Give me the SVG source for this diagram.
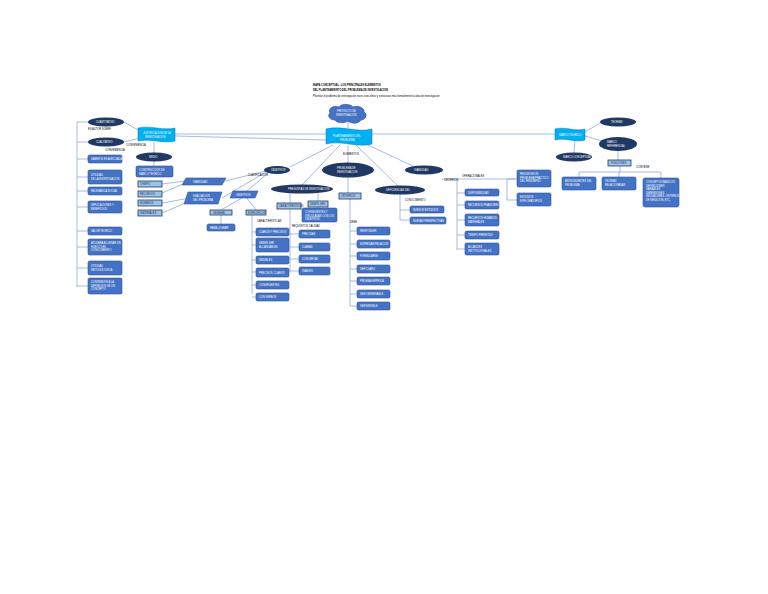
<svg xmlns="http://www.w3.org/2000/svg" width="768" height="594" viewBox="0 0 768 594">
<style>
text{font-family:"Liberation Sans",Arial,sans-serif;font-size:2.6px;fill:#fff}
.t{fill:#000}
.e{fill:#1f3864}
.b{fill:#4472c4;stroke:#2f5597;stroke-width:0.6}
.s{fill:#9dc3e6;stroke:#1f3864;stroke-width:0.8}
.s+text{fill:#1f3864}
.w{fill:#00b0f0;stroke:#0070c0;stroke-width:0.5}
#c path{fill:none;stroke:#8faadc;stroke-width:0.8}
</style>
<rect width="768" height="594" fill="#fff"/>
<g id="title">
<text class="t" x="313" y="86" font-size="3.4" font-weight="bold">MAPA CONCEPTUAL: LOS PRINCIPALES ELEMENTOS</text>
<text class="t" x="313" y="91" font-size="3.4" font-weight="bold">DEL PLANTEAMIENTO DEL PROBLEMA DE INVESTIGACION</text>
<text class="t" x="313" y="97" font-size="2.4">Plantear el problema de investigación no es sino afinar y estructurar más formalmente la idea de investigación</text>
</g>
<g id="c">
<path d="M175 134H555M77 122V287M77 122H88M77 142H88M77 159H88M77 177H88M77 191H88M77 207H88M77 231H88M77 247H88M77 268H88M77 286H88"/>
<path d="M124 122L140 131M124 142L140 138M154 142V153M154 161V166M326 140L175 136M348 121V128"/>
<path d="M162 184L185 181M162 193L190 181M162 203L190 198M162 213L190 201M225 181L266 171M222 198L266 172M247 191L268 173"/>
<path d="M242 198L221 210M247 198L256 210M221 215V224M252 215V294M252 232H256M252 245H256M252 260H256M252 272H256M252 285H256M252 297H256"/>
<path d="M333 145L290 167M340 145L302 185M348 145V163M356 145L398 186M368 145L415 167"/>
<path d="M290 193V209M290 209V272M290 234H299M290 247H299M290 259H299M290 271H299M318 193V201M318 207V208"/>
<path d="M348 177V193M350 199V306M350 231H357M350 244H357M350 256H357M350 269H357M350 281H357M350 294H357M350 306H357"/>
<path d="M400 194V220M400 210H410M400 220H410M442 179H515M457 179V250M457 193H465M457 205H465M457 220H465M457 235H465M457 249H465M507 179V200M507 179H517M507 200H517"/>
<path d="M585 132L600 123M585 136L602 141M575 140L574 153M618 151V160M620 166V172M579 172H661M579 172V177M619 172V177M661 172V178"/>
</g>
<g id="n-proyecto"><path class="b" d="M330 113c-3-5 5-8 9-6c3-4 12-3 14 0c5-2 12 1 11 5c4 2 2 8-3 8c-2 4-10 4-13 1c-4 3-12 2-13-1c-6 0-8-5-5-7z"/><text x="337" y="112">PROYECTO DE</text><text x="336" y="115.5">INVESTIGACION</text></g>
<g id="n-plant"><path class="w" d="M326 129c15 -4 31 4 46 0v15c-15 4-31-4-46 0z"/><text x="333" y="137">PLANTEAMIENTO DEL</text><text x="340" y="140.5">PROBLEMA</text></g>
<text class="t" x="343" y="155" font-size="2.4">ELEMENTOS</text>
<g id="n-just"><path class="w" d="M138 128c12-3 25 3 37 0v13c-12 3-25-3-37 0z"/><text x="143" y="134">JUSTIFICACION DE LA</text><text x="145" y="137.5">INVESTIGACION</text></g>
<g id="n-cuant"><ellipse class="e" cx="106" cy="122" rx="18" ry="4.5"/><text x="96" y="123">CUANTITATIVO</text></g>
<text class="t" x="88" y="130" font-size="2.2">ES AUTOR SOBRE</text>
<g id="n-cual"><ellipse class="e" cx="106" cy="142" rx="18" ry="4.5"/><text x="96" y="143">CUALITATIVO</text></g>
<text class="t" x="105" y="151" font-size="2.2">CONVENIENCIA</text>
<text class="t" x="126" y="146" font-size="2.2">CONVENIENCIA</text>
<g id="n-l1"><rect class="b" x="88" y="155" width="34" height="8" rx="1.5"/><text x="91" y="160">SABER SI ES ADECUADA</text></g>
<g id="n-l2"><rect class="b" x="88" y="170" width="34" height="14" rx="1.5"/><text x="91" y="176">UTILIDAD</text><text x="91" y="179.5">DE LA INVESTIGACION</text></g>
<g id="n-l3"><rect class="b" x="88" y="187" width="34" height="8" rx="1.5"/><text x="91" y="192">RELEVANCIA SOCIAL</text></g>
<g id="n-l4"><rect class="b" x="88" y="201" width="34" height="12" rx="1.5"/><text x="91" y="206">IMPLICACIONES Y</text><text x="91" y="209.5">BENEFICIOS</text></g>
<g id="n-l5"><rect class="b" x="88" y="227" width="34" height="8" rx="1.5"/><text x="91" y="232">VALOR TEORICO</text></g>
<g id="n-l6"><rect class="b" x="88" y="239" width="34" height="16" rx="1.5"/><text x="91" y="244">AYUDARA A LLENAR UN</text><text x="91" y="247.5">HUECO DEL</text><text x="91" y="251">CONOCIMIENTO</text></g>
<g id="n-l7"><rect class="b" x="88" y="261" width="34" height="14" rx="1.5"/><text x="91" y="267">UTILIDAD</text><text x="91" y="270.5">METODOLOGICA</text></g>
<g id="n-l8"><rect class="b" x="88" y="278" width="34" height="16" rx="1.5"/><text x="91" y="283">CONTRIBUYE A LA</text><text x="91" y="286.5">DEFINICION DE UN</text><text x="91" y="290">CONCEPTO</text></g>
<g id="n-medio"><ellipse class="e" cx="154" cy="157" rx="18" ry="4.5"/><text x="149" y="158">MEDIO</text></g>
<g id="n-cmt"><rect class="b" x="136" y="166" width="37" height="11" rx="1.5"/><text x="139" y="171">CONSTRUCCION DE</text><text x="139" y="174.5">MARCO TEORICO</text></g>
<g id="n-s1"><rect class="s" x="138" y="181" width="24" height="6"/><text x="140" y="185">TIEMPO</text></g>
<g id="n-s2"><rect class="s" x="138" y="191" width="24" height="6"/><text x="140" y="195">RECURSOS</text></g>
<g id="n-s3"><rect class="s" x="138" y="200" width="24" height="6"/><text x="140" y="204">HUMANOS</text></g>
<g id="n-s4"><rect class="s" x="138" y="210" width="24" height="6"/><text x="140" y="214">MATERIALES</text></g>
<g id="n-p1"><path class="b" d="M186 178h40l-4 7h-40z"/><text x="193" y="182.5">VIABILIDAD</text></g>
<g id="n-p2"><path class="b" d="M188 192h34l-4 12h-34z"/><text x="193" y="197">EVALUACION</text><text x="193" y="200.5">DEL PROBLEMA</text></g>
<g id="n-p3"><path class="b" d="M233 191h25l-3 7h-25z"/><text x="236" y="195.5">OBJETIVOS</text></g>
<g id="n-obj"><ellipse class="e" cx="277" cy="170" rx="13" ry="4"/><text x="271" y="171">OBJETIVOS</text></g>
<text class="t" x="248" y="176" font-size="2.2">CLASIFICACION</text>
<g id="n-gen"><rect class="s" x="210" y="210" width="22" height="5"/><text x="213" y="213.5">GENERAL</text></g>
<g id="n-esp"><rect class="s" x="246" y="210" width="20" height="5"/><text x="248" y="213.5">ESPECIFICOS</text></g>
<g id="n-para"><rect class="b" x="207" y="224" width="28" height="7" rx="1.5"/><text x="210" y="228.5">PARA LOGRAR</text></g>
<text class="t" x="257" y="222" font-size="2.2">CARACTERISTICAS</text>
<g id="n-o1"><rect class="b" x="256" y="228" width="33" height="8" rx="1.5"/><text x="259" y="233">CLAROS Y PRECISOS</text></g>
<g id="n-o2"><rect class="b" x="256" y="238" width="33" height="14" rx="1.5"/><text x="259" y="244">DEBEN SER</text><text x="259" y="247.5">ALCANZABLES</text></g>
<g id="n-o3"><rect class="b" x="256" y="256" width="33" height="8" rx="1.5"/><text x="259" y="261">MEDIBLES</text></g>
<g id="n-o4"><rect class="b" x="256" y="268" width="33" height="9" rx="1.5"/><text x="259" y="273.5">PRECISOS, CLAROS</text></g>
<g id="n-o5"><rect class="b" x="256" y="281" width="33" height="8" rx="1.5"/><text x="259" y="286">CONGRUENTES</text></g>
<g id="n-o6"><rect class="b" x="256" y="293" width="33" height="8" rx="1.5"/><text x="259" y="298">CON VERBOS</text></g>
<g id="n-preg"><ellipse class="e" cx="302" cy="189" rx="31" ry="4.5"/><text x="288" y="190">PREGUNTAS DE INVESTIGACION</text></g>
<g id="n-ps1"><rect class="s" x="277" y="203" width="24" height="6"/><text x="279" y="207">CARACTERISTICAS</text></g>
<g id="n-ps2"><rect class="s" x="308" y="201" width="20" height="6"/><text x="310" y="205">DEBEN SER</text></g>
<g id="n-pb"><rect class="b" x="302" y="208" width="35" height="14" rx="1.5"/><text x="305" y="213">CONGRUENTES Y</text><text x="305" y="216.5">VINCULADAS CON LOS</text><text x="305" y="220">OBJETIVOS</text></g>
<text class="t" x="292" y="227" font-size="2.2">REQUISITOS   CALIDAD</text>
<g id="n-q1"><rect class="b" x="299" y="230" width="31" height="8" rx="1.5"/><text x="302" y="235">PRECISAS</text></g>
<g id="n-q2"><rect class="b" x="299" y="243" width="31" height="8" rx="1.5"/><text x="302" y="248">CLARAS</text></g>
<g id="n-q3"><rect class="b" x="299" y="255" width="31" height="8" rx="1.5"/><text x="302" y="260">CONCRETAS</text></g>
<g id="n-q4"><rect class="b" x="299" y="267" width="31" height="8" rx="1.5"/><text x="302" y="272">VIABLES</text></g>
<g id="n-prob"><ellipse class="e" cx="348" cy="170" rx="26" ry="7.5"/><text x="337" y="169">PROBLEMA DE</text><text x="337" y="172.5">INVESTIGACION</text></g>
<g id="n-crit"><rect class="s" x="339" y="193" width="22" height="6"/><text x="341" y="197">CRITERIOS</text></g>
<text class="t" x="350" y="223" font-size="2.2">DEBE</text>
<g id="n-r1"><rect class="b" x="357" y="227" width="33" height="8" rx="1.5"/><text x="360" y="232">RESPONDER</text></g>
<g id="n-r2"><rect class="b" x="357" y="240" width="33" height="8" rx="1.5"/><text x="360" y="245">EXPRESAR RELACION</text></g>
<g id="n-r3"><rect class="b" x="357" y="252" width="33" height="8" rx="1.5"/><text x="360" y="257">FORMULARSE</text></g>
<g id="n-r4"><rect class="b" x="357" y="265" width="33" height="8" rx="1.5"/><text x="360" y="270">SER CLARO</text></g>
<g id="n-r5"><rect class="b" x="357" y="277" width="33" height="8" rx="1.5"/><text x="360" y="282">PRUEBA EMPIRICA</text></g>
<g id="n-r6"><rect class="b" x="357" y="290" width="33" height="8" rx="1.5"/><text x="360" y="295">SER OBSERVABLE</text></g>
<g id="n-r7"><rect class="b" x="357" y="302" width="33" height="8" rx="1.5"/><text x="360" y="307">SER MEDIBLE</text></g>
<g id="n-hip"><ellipse class="e" cx="400" cy="190" rx="25" ry="4.5"/><text x="386" y="191">DEFICIENCIAS DEL</text></g>
<text class="t" x="405" y="201" font-size="2.2">CONOCIMIENTO</text>
<g id="n-h1"><rect class="b" x="410" y="206" width="34" height="7" rx="1.5"/><text x="413" y="210.5">NUEVOS ESTUDIOS</text></g>
<g id="n-h2"><rect class="b" x="410" y="217" width="36" height="7" rx="1.5"/><text x="413" y="221.5">NUEVAS PERSPECTIVAS</text></g>
<g id="n-viab"><ellipse class="e" cx="424" cy="170" rx="19" ry="4.5"/><text x="414" y="171">VIABILIDAD</text></g>
<text class="t" x="462" y="177" font-size="2.2">OPERACIONALES</text>
<text class="t" x="444" y="181" font-size="2.2">CRITERIOS</text>
<g id="n-v1"><rect class="b" x="465" y="189" width="34" height="7" rx="1.5"/><text x="468" y="193.5">DISPONIBILIDAD</text></g>
<g id="n-v2"><rect class="b" x="465" y="201" width="34" height="8" rx="1.5"/><text x="468" y="206">RECURSOS FINANCIEROS</text></g>
<g id="n-v3"><rect class="b" x="465" y="214" width="34" height="12" rx="1.5"/><text x="468" y="219">RECURSOS HUMANOS</text><text x="468" y="222.5">MATERIALES</text></g>
<g id="n-v4"><rect class="b" x="465" y="231" width="34" height="8" rx="1.5"/><text x="468" y="236">TIEMPO PERMITIDO</text></g>
<g id="n-v5"><rect class="b" x="465" y="243" width="34" height="12" rx="1.5"/><text x="468" y="248">ALCANCES</text><text x="468" y="251.5">INSTITUCIONALES</text></g>
<g id="n-v6"><rect class="b" x="517" y="170" width="34" height="17" rx="1.5"/><text x="520" y="175">RESUELVE UN</text><text x="520" y="178.5">PROBLEMA PRACTICO</text><text x="520" y="182">DEL FENOMENO</text></g>
<g id="n-v7"><rect class="b" x="517" y="193" width="34" height="13" rx="1.5"/><text x="520" y="198">ESTUDIOS</text><text x="520" y="201.5">EXPLORATORIOS</text></g>
<g id="n-mt"><path class="w" d="M555 129c10-3 20 3 30 0v11c-10 3-20-3-30 0z"/><text x="559" y="136">MARCO TEORICO</text></g>
<g id="n-teo"><ellipse class="e" cx="618" cy="122" rx="18" ry="4.5"/><text x="611" y="123">TEORIAS</text></g>
<g id="n-mref"><ellipse class="e" cx="618" cy="144" rx="19" ry="7"/><text x="607" y="143">MARCO</text><text x="607" y="146.5">REFERENCIAL</text></g>
<g id="n-mcon"><ellipse class="e" cx="574" cy="157" rx="18" ry="4.5"/><text x="563" y="158">MARCO CONCEPTUAL</text></g>
<g id="n-fun"><rect class="s" x="608" y="160" width="23" height="6"/><text x="611" y="164">FUNCIONES</text></g>
<text class="t" x="636" y="168" font-size="2.2">CONTIENE</text>
<g id="n-m1"><rect class="b" x="562" y="177" width="34" height="13" rx="1.5"/><text x="565" y="182">ANTECEDENTES DEL</text><text x="565" y="185.5">PROBLEMA</text></g>
<g id="n-m2"><rect class="b" x="602" y="177" width="34" height="13" rx="1.5"/><text x="605" y="182">TEORIAS</text><text x="605" y="185.5">RELACIONADAS</text></g>
<g id="n-m3"><rect class="b" x="643" y="178" width="36" height="29" rx="2"/><text x="646" y="183">CONCEPTOS BASICOS</text><text x="646" y="186.5">DEFINICIONES</text><text x="646" y="190">VARIABLES</text><text x="646" y="193.5">DIMENSIONES</text><text x="646" y="197">INDICADORES, CRITERIOS</text><text x="646" y="200.5">DE MEDICION, ETC.</text></g>
</svg>
